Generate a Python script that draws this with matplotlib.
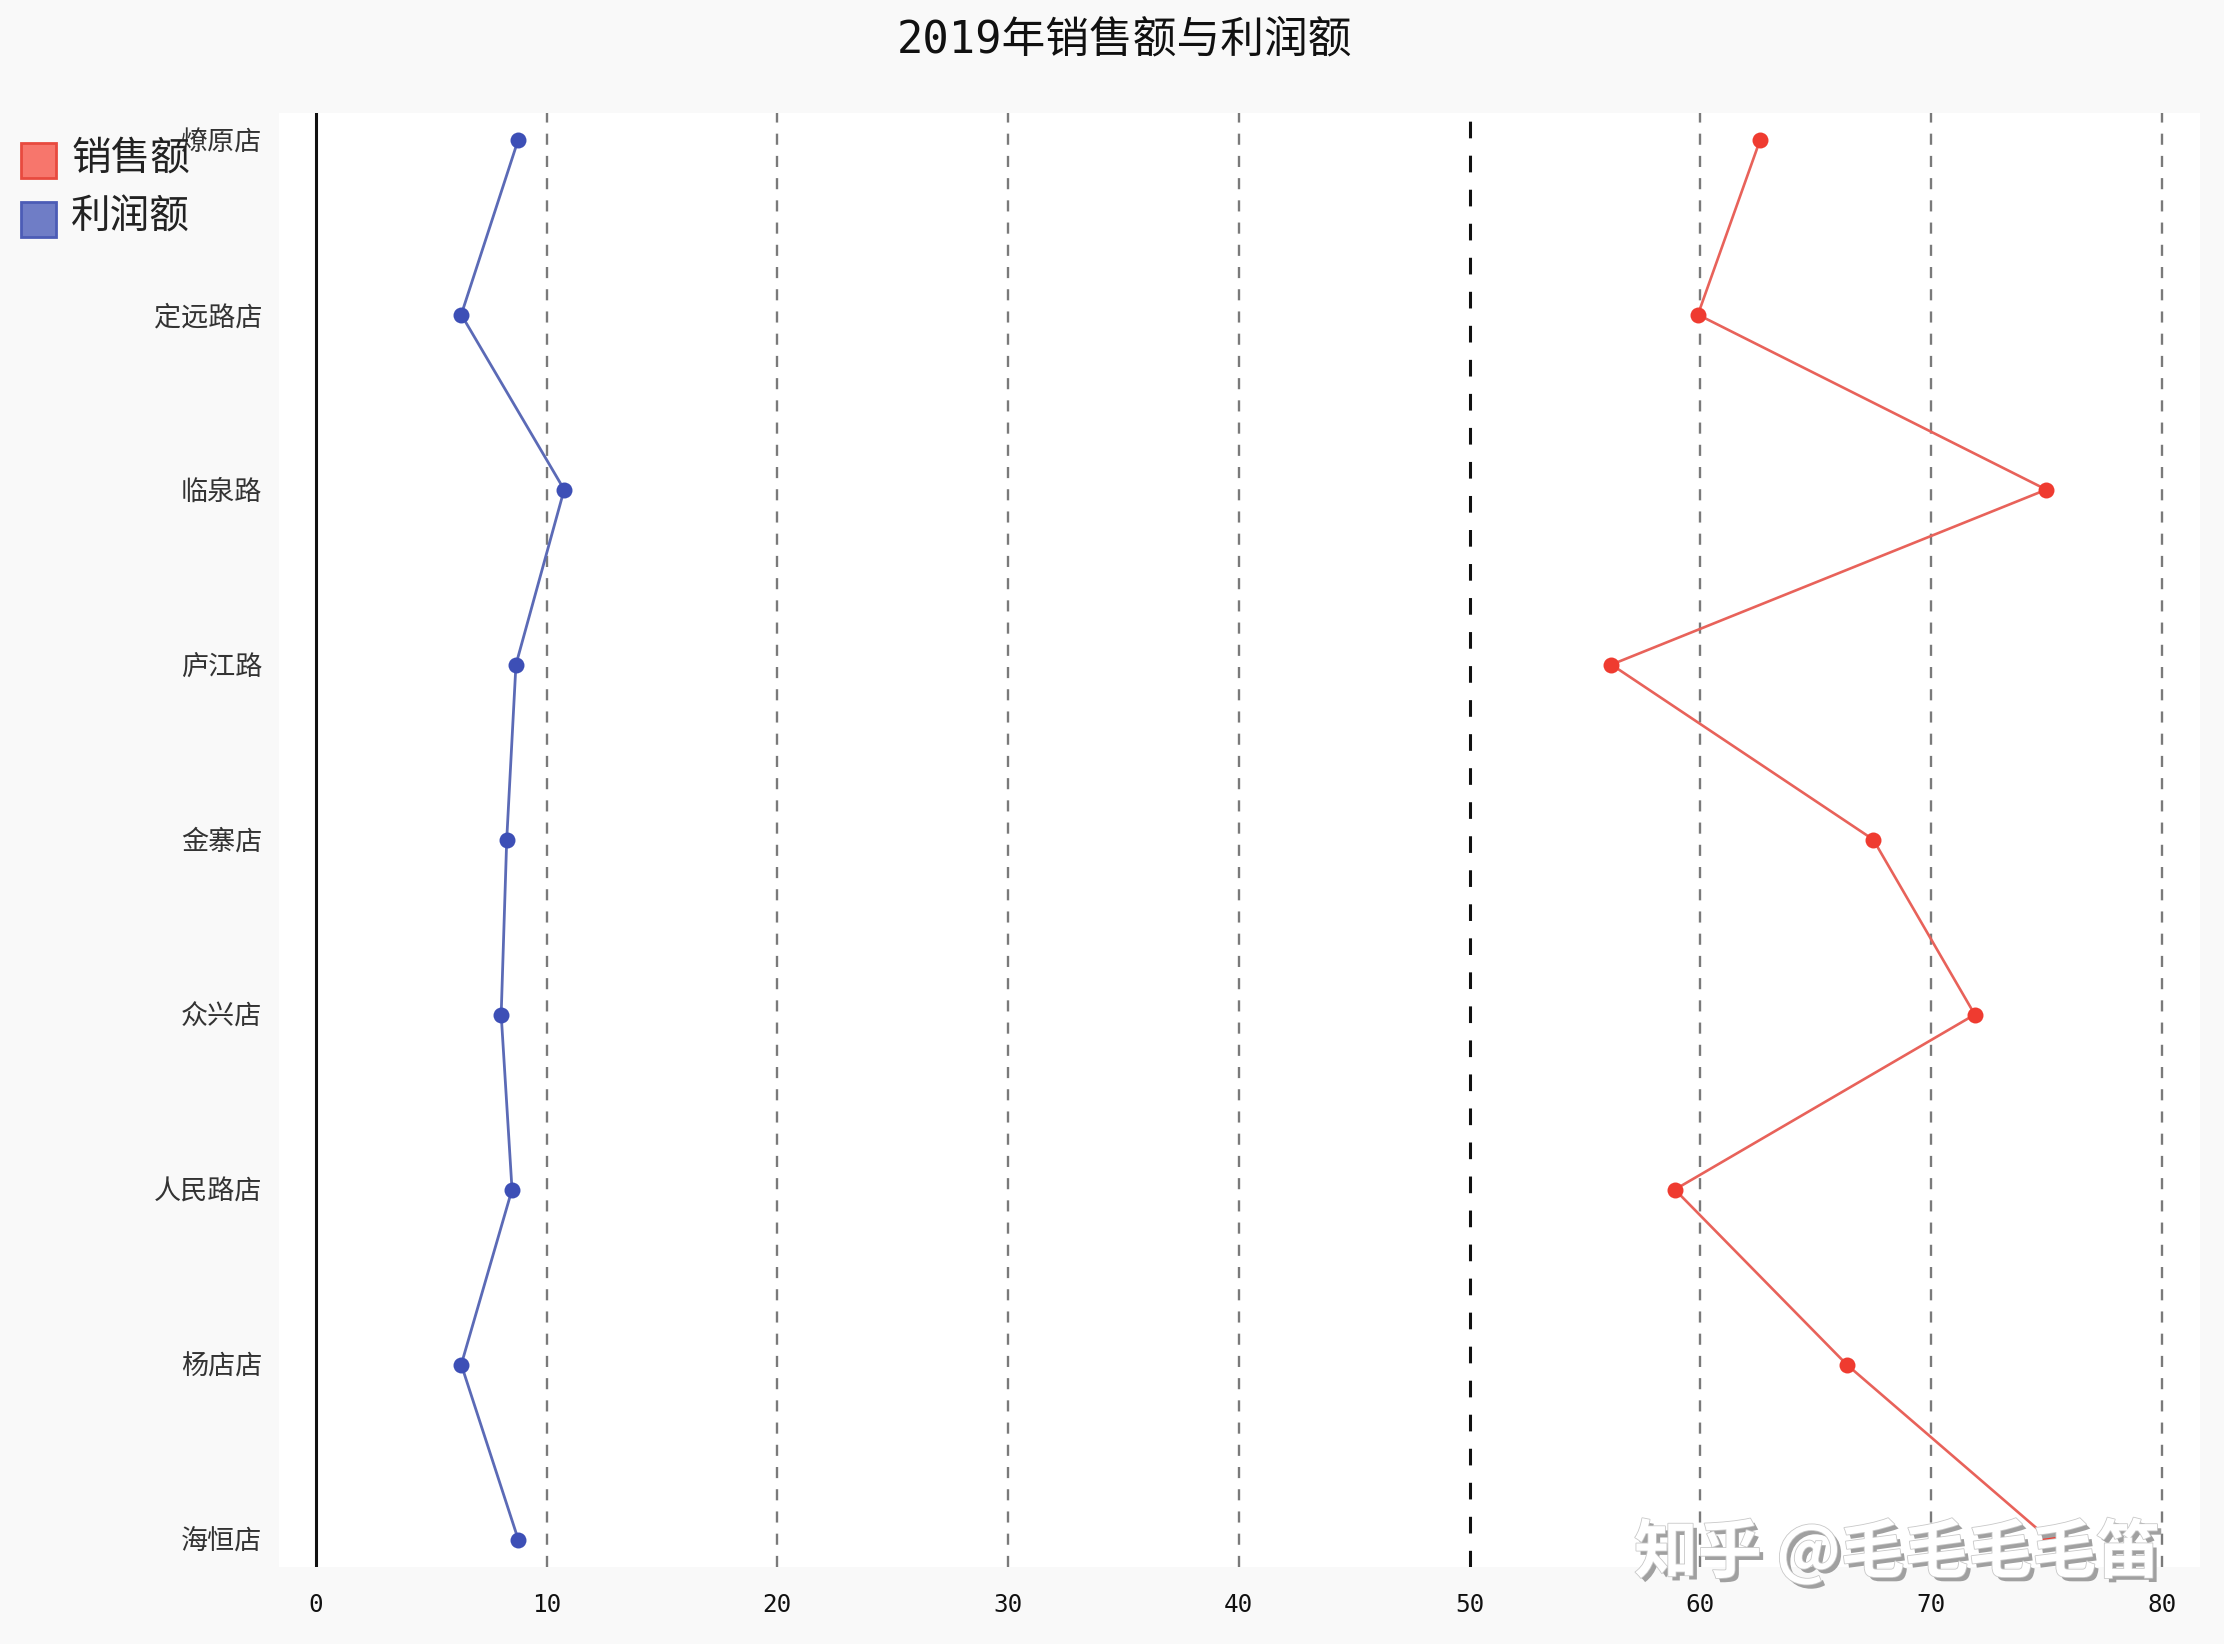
import matplotlib
matplotlib.use("Agg")
import matplotlib.pyplot as plt
from matplotlib.patches import Rectangle
import matplotlib.patheffects as pe

plt.rcParams['font.family'] = ['Noto Sans CJK SC', 'DejaVu Sans']
plt.rcParams['lines.scale_dashes'] = False

# ---- data ----
stores = ['燎原店', '定远路店', '临泉路', '庐江路', '金寨店', '众兴店', '人民路店', '杨店店', '海恒店']
sales = [62.6, 59.9, 75.0, 56.15, 67.5, 71.9, 58.9, 66.35, 75.15]
profit = [8.77, 6.3, 10.76, 8.67, 8.27, 8.03, 8.5, 6.3, 8.77]
x_ticks = [0, 10, 20, 30, 40, 50, 60, 70, 80]
ref_line = 50
title = '2019年销售额与利润额'
series_names = ['销售额', '利润额']
watermark = '知乎 @毛毛毛毛笛'

W, H = 2224, 1644
fig = plt.figure(figsize=(W / 100, H / 100), dpi=100)
fig.patch.set_facecolor('#f9f9f9')

ax = fig.add_axes([279 / W, 1 - 1567 / H, (2199.5 - 279) / W, (1567 - 112.7) / H])
ax.set_facecolor('white')

ypos = list(range(len(stores)))
ax.set_xlim(-1.6, 81.64)
ax.set_ylim(len(stores) - 1 + 0.157, -0.154)

# grid lines
for xv in x_ticks[1:]:
    if xv == ref_line:
        ax.axvline(xv, color='#111111', lw=2.2, dashes=(12, 12.5), zorder=1)
    else:
        ax.axvline(xv, color='#7a7a7a', lw=1.7, dashes=(8, 8), zorder=1)
ax.axvline(0, color='#111111', lw=2.2, zorder=2)

# series
ax.plot(sales, ypos, color='#e8625a', lw=1.9, zorder=3)
ax.plot(sales, ypos, 'o', color='#ef3b30', ms=11.5, mec='none', zorder=4)
ax.plot(profit, ypos, color='#5b6ab6', lw=2.0, zorder=3)
ax.plot(profit, ypos, 'o', color='#3d4fb6', ms=11.5, mec='none', zorder=4)

for s in ax.spines.values():
    s.set_visible(False)

ax.set_xticks(x_ticks)
ax.set_xticklabels([str(v) for v in x_ticks], family='DejaVu Sans Mono', fontsize=17.5, color='#111111')
ax.set_yticks(ypos)
ax.set_yticklabels(stores, fontsize=19.5, color='#333333')
ax.tick_params(axis='x', length=0, pad=19)
ax.tick_params(axis='y', length=0, pad=12)

# title
fig.text(1124 / W, 1 - 40 / H, title, ha='center', va='center', fontsize=31.5,
         family=['DejaVu Sans Mono', 'Noto Sans CJK SC'], color='#111111')

# legend
leg_colors = [('#f7766c', '#e84a3f'), ('#6f7dc6', '#4c5cb6')]
leg_y = [161, 220]
for (fc, ec), yc, name in zip(leg_colors, leg_y, series_names):
    fig.add_artist(Rectangle((21 / W, 1 - (yc + 17.5) / H), 35 / W, 35 / H,
                             transform=fig.transFigure, facecolor=fc, edgecolor=ec, lw=2))
    fig.text(71 / W, 1 - (yc - 2) / H, name, ha='left', va='center', fontsize=28.5, color='#222222')

# watermark
fig.text(1897 / W, 1 - 1553 / H, watermark, ha='center', va='center', fontsize=46,
         fontweight='bold', color='white', zorder=10,
         path_effects=[pe.SimplePatchShadow(offset=(3, -3), shadow_rgbFace='#a0a0a0', alpha=1.0),
                       pe.Stroke(linewidth=1.2, foreground='#c8c8c8'), pe.Normal()])

fig.savefig('out.png', dpi=100, facecolor=fig.get_facecolor())
